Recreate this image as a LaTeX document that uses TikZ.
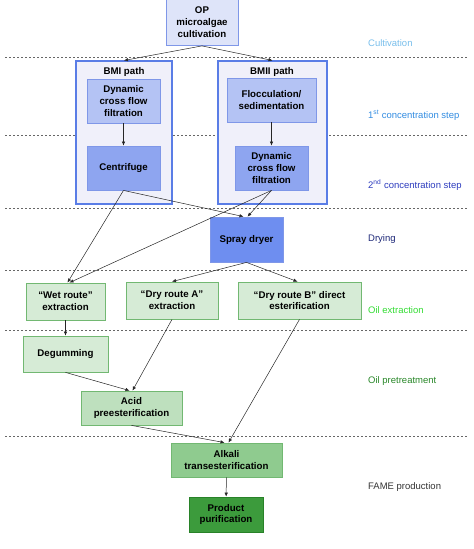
\documentclass[tikz,border=0pt]{standalone}
\usepackage{fontspec}
\setmainfont{Liberation Sans}
\usetikzlibrary{arrows.meta,positioning}
\definecolor{bordblue}{HTML}{7F97E8}
\definecolor{pathblue}{HTML}{5A7DE6}
\definecolor{bordgreen}{HTML}{72B872}

\begin{document}
\begin{tikzpicture}[
  x=1pt, y=-1pt,
  box/.style={rectangle, draw, align=center, inner sep=1pt,
    font=\fontsize{9.7}{11.7}\selectfont\bfseries},
  bluebox/.style={box, draw=bordblue, line width=0.8pt},
  greenbox/.style={box, draw=bordgreen, line width=0.8pt},
  pathbox/.style={rectangle, draw=pathblue, line width=1.1pt, fill=blue!4!white!96!gray},
  stage/.style={anchor=west, inner sep=0pt, font=\fontsize{9.5}{11}\selectfont},
  sep/.style={draw=black!60, dash pattern=on 2.2pt off 1.8pt, line width=0.6pt},
  arr/.style={-{Latex[length=4pt,width=3.5pt]}, line width=0.5pt, black!85}
]
\useasboundingbox (0,0) rectangle (474,549);

% Stage separators
\foreach \y in {57,135,208,270,330,436}
  \draw[sep] (5,\y) -- (468,\y);

% Stage labels
\node[stage, text={rgb,255:red,120;green,190;blue,235}] (lcult) at (368,43) {Cultivation};
\node[stage, text={rgb,255:red,50;green,140;blue,225}] (lconc1) at (368,115) {1\textsuperscript{st} concentration step};
\node[stage, text={rgb,255:red,45;green,60;blue,190}] (lconc2) at (368,185) {2\textsuperscript{nd} concentration step};
\node[stage, text={rgb,255:red,30;green,40;blue,120}] (ldry) at (368,239) {Drying};
\node[stage, text={rgb,255:red,50;green,220;blue,50}] (loil) at (368,310) {Oil extraction};
\node[stage, text={rgb,255:red,40;green,135;blue,40}] (lpre) at (368,381) {Oil pretreatment};
\node[stage, text=black!80] (lfame) at (368,487) {FAME production};

% Top
\node[bluebox, fill={rgb,255:red,222;green,228;blue,249}, minimum width=72pt, minimum height=47pt] (op) at (202,22) {OP\\microalgae\\cultivation};

% Harvesting paths
\node[pathbox, minimum width=96pt, minimum height=143pt] (bmi) at (124,132.5) {};
\node[pathbox, minimum width=109pt, minimum height=143pt] (bmii) at (272.5,132.5) {};
\node[box, draw=none] (bmilab) at (124,72) {BMI path};
\node[box, draw=none] (bmiilab) at (272,72) {BMII path};

\node[bluebox, fill={rgb,255:red,180;green,195;blue,244}, minimum width=73pt, minimum height=44pt] (dcfa) at (123.5,101) {Dynamic\\cross flow\\filtration};
\node[bluebox, fill={rgb,255:red,142;green,165;blue,240}, minimum width=73pt, minimum height=44pt] (cent) at (123.5,168) {Centrifuge};
\node[bluebox, fill={rgb,255:red,180;green,195;blue,244}, minimum width=89pt, minimum height=44pt] (floc) at (271.5,100) {Flocculation/\\sedimentation};
\node[bluebox, fill={rgb,255:red,142;green,165;blue,240}, minimum width=73pt, minimum height=44pt] (dcfb) at (271.5,168) {Dynamic\\cross flow\\filtration};

% Drying
\node[bluebox, fill={rgb,255:red,110;green,142;blue,240}, minimum width=73pt, minimum height=45pt] (spray) at (246.5,239.5) {Spray dryer};

% Oil extraction
\node[greenbox, fill={rgb,255:red,214;green,235;blue,214}, minimum width=79pt, minimum height=37pt] (wet) at (65.5,301.5) {“Wet route”\\extraction};
\node[greenbox, fill={rgb,255:red,214;green,235;blue,214}, minimum width=92pt, minimum height=37pt] (drya) at (172,300.5) {“Dry route A”\\extraction};
\node[greenbox, fill={rgb,255:red,214;green,235;blue,214}, minimum width=123pt, minimum height=37pt] (dryb) at (299.5,300.5) {“Dry route B” direct\\esterification};

% Pretreatment
\node[greenbox, fill={rgb,255:red,214;green,235;blue,214}, minimum width=85pt, minimum height=36pt] (degum) at (65.5,354) {Degumming};
\node[greenbox, fill={rgb,255:red,190;green,224;blue,190}, minimum width=101pt, minimum height=34pt] (acid) at (131.5,408) {Acid\\preesterification};

% FAME
\node[greenbox, fill={rgb,255:red,143;green,203;blue,143}, minimum width=111pt, minimum height=34pt] (alk) at (226.5,460) {Alkali\\transesterification};
\node[greenbox, draw={rgb,255:red,40;green,130;blue,40}, fill={rgb,255:red,60;green,155;blue,60}, minimum width=74pt, minimum height=35pt] (prod) at (226,514.5) {Product\\purification};

\draw[arr] (op.south) -- (bmi.north);
\draw[arr] (op.south) -- (bmii.north);
\draw[arr] (dcfa) -- (cent);
\draw[arr] (floc) -- (dcfb);
\draw[arr] (cent.south) -- ([xshift=-3pt]spray.north);
\draw[arr] (dcfb.south) -- ([xshift=1pt]spray.north);
\draw[arr] (cent.south) -- ([xshift=2pt]wet.north);
\draw[arr] (dcfb.south) -- ([xshift=4pt]wet.north);
\draw[arr] (spray.south) -- (drya.north);
\draw[arr] (spray.south) -- ([xshift=-2pt]dryb.north);
\draw[arr] (wet) -- (degum);
\draw[arr] (degum.south) -- ([xshift=-2pt]acid.north);
\draw[arr] (drya.south) -- ([xshift=1pt]acid.north);
\draw[arr] (acid.south) -- ([xshift=-2pt]alk.north);
\draw[arr] (dryb.south) -- ([xshift=2pt]alk.north);
\draw[arr] (alk) -- (prod);

\end{tikzpicture}
\end{document}
